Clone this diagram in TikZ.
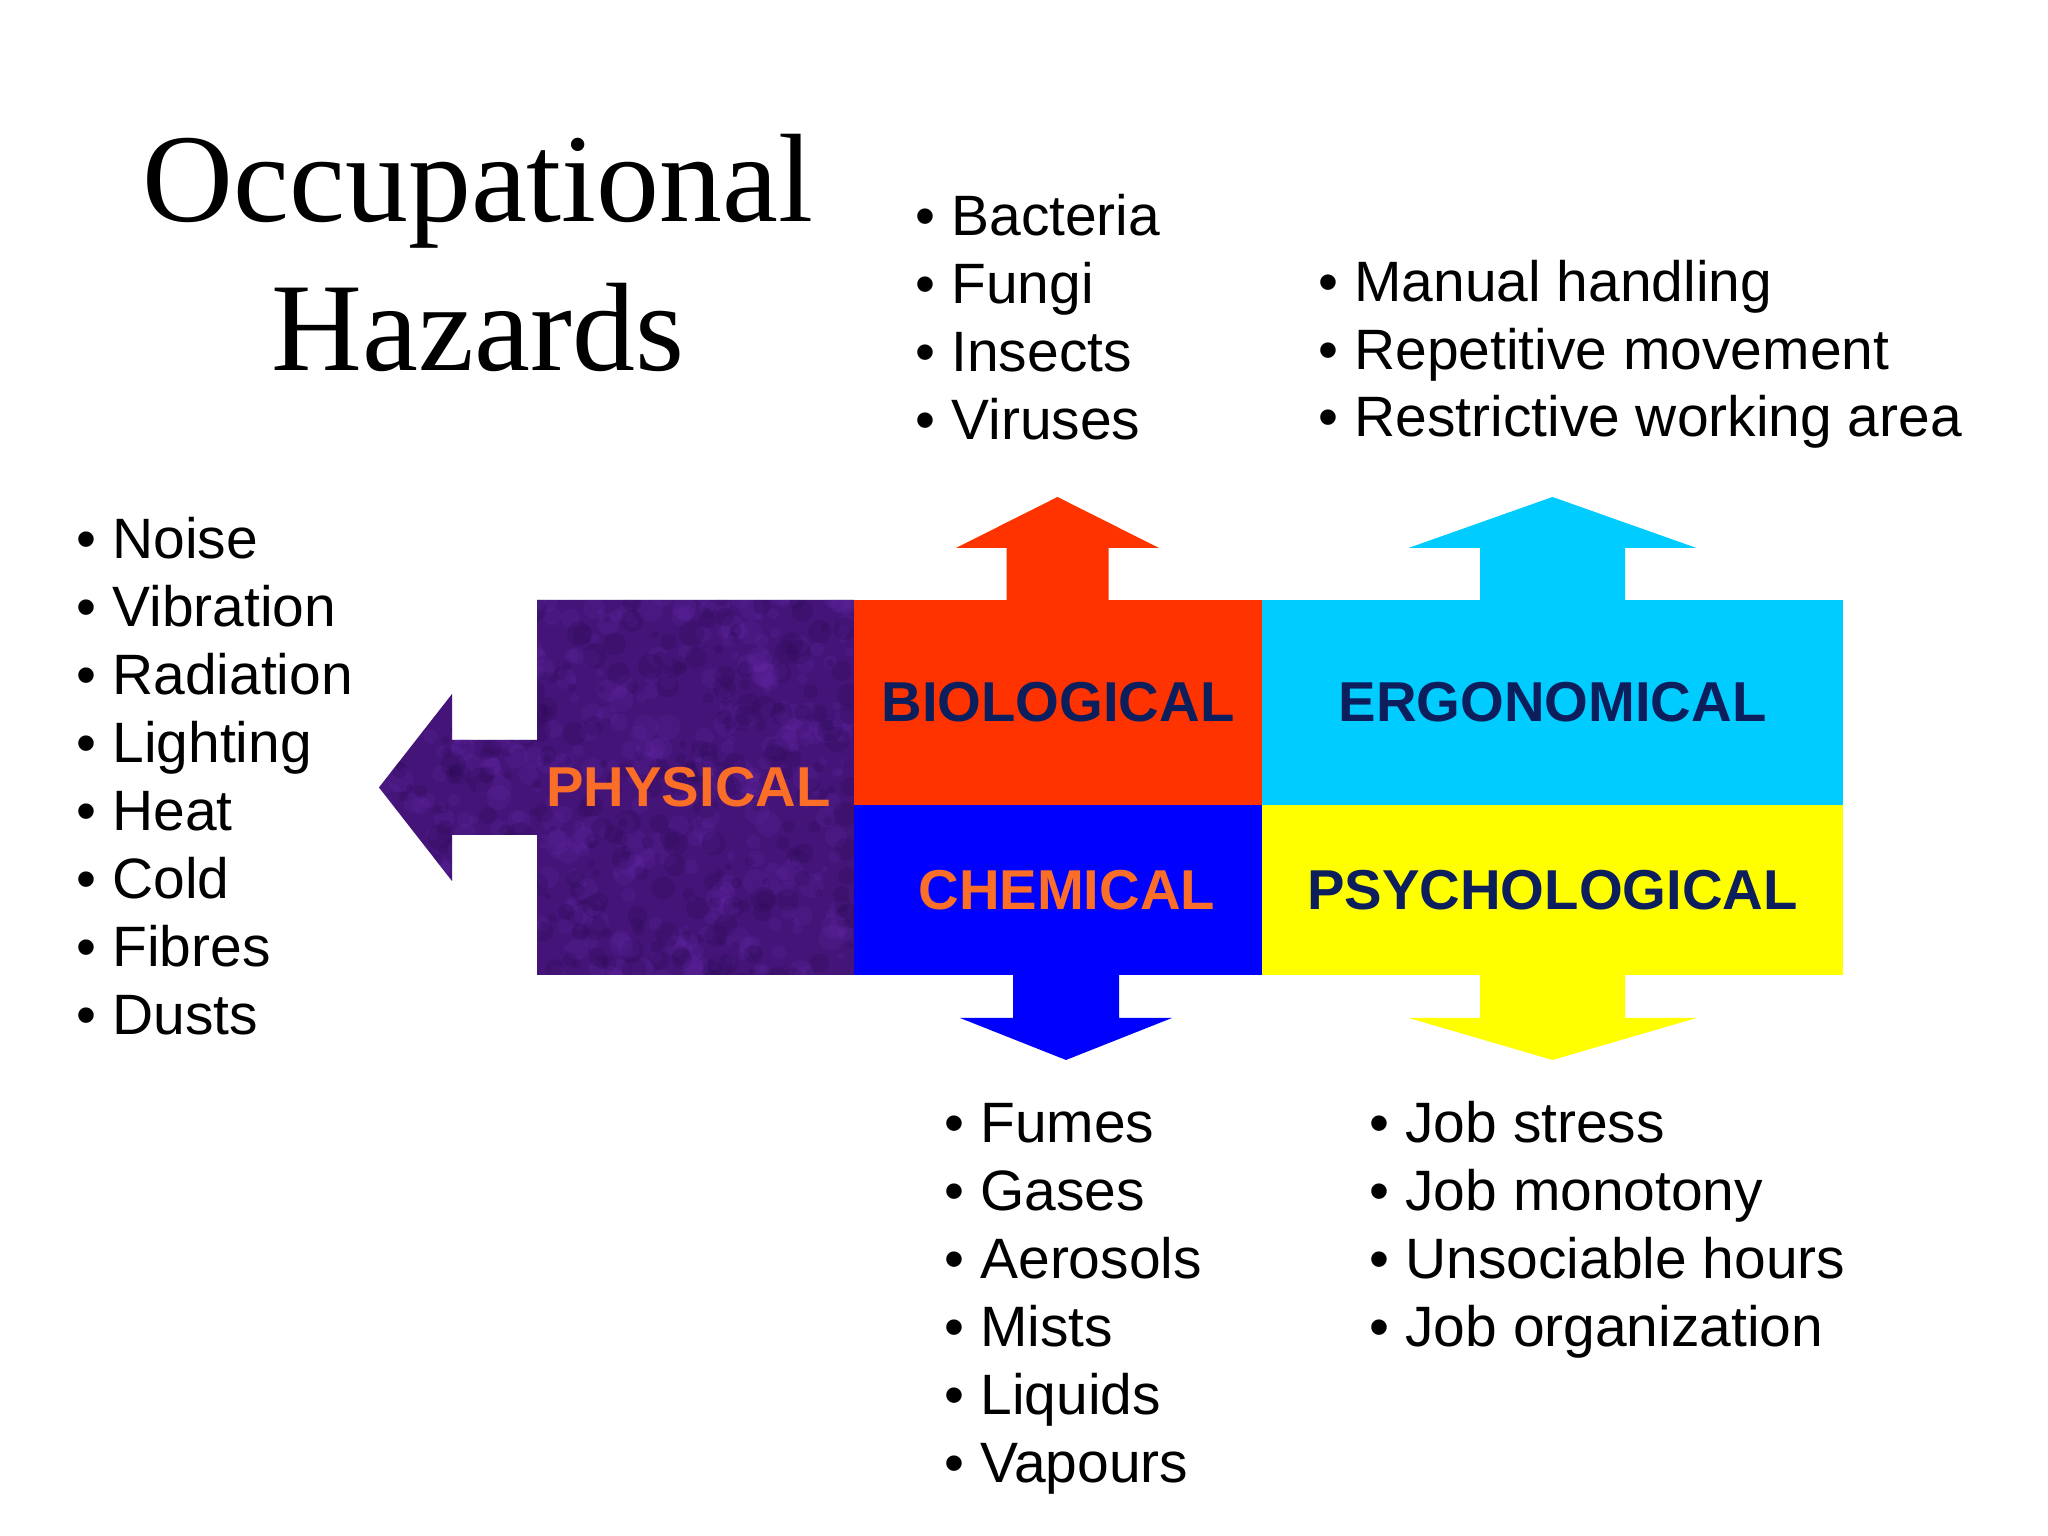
\documentclass[tikz,border=0pt]{standalone}
\usepackage{fontspec}
\setmainfont{Liberation Sans}
\newfontfamily\titlefont{Liberation Serif}
\usepackage{tikz}
\definecolor{physpurple}{RGB}{68,20,120}
\definecolor{physlight}{RGB}{110,45,180}
\definecolor{physdark}{RGB}{38,8,78}
\definecolor{bioorange}{RGB}{255,51,0}
\definecolor{chemblue}{RGB}{0,0,255}
\definecolor{ergocyan}{RGB}{0,204,255}
\definecolor{psychyellow}{RGB}{255,255,0}
\definecolor{labelnavy}{RGB}{12,30,92}
\definecolor{labelorange}{RGB}{250,110,40}
% colour, centre x, shaft half width, head half width, root y, neck y, tip y
\newcommand{\vblock}[7]{\fill[#1] ({#2-#3},#5) -- ({#2-#3},#6) -- ({#2-#4},#6) -- (#2,#7) -- ({#2+#4},#6) -- ({#2+#3},#6) -- ({#2+#3},#5) -- cycle;}

\begin{document}
\begin{tikzpicture}
  \tikzstyle{box}=[rectangle,inner sep=0pt,outer sep=0pt,font=\fontsize{16}{19}\selectfont\bfseries]
  \tikzstyle{item}=[anchor=base west,inner sep=0pt,font=\fontsize{16.2}{19}\selectfont]
  \tikzstyle{heading}=[anchor=base,inner sep=0pt,font=\titlefont\fontsize{35.8}{43}\selectfont]

  \useasboundingbox[fill=white] (0,0) rectangle (20.48,15.36);

  % physical block with its arrow, mottled
  \begin{scope}
    \clip (8.54,9.36) -- (5.37,9.36) -- (5.37,7.96) -- (4.52,7.96) -- (4.52,8.42) -- (3.79,7.485) -- (4.52,6.55) -- (4.52,7.01) -- (5.37,7.01) -- (5.37,5.61) -- (8.54,5.61) -- cycle;
    \fill[physpurple] (3.7,5.5) rectangle (8.6,9.4);
    \pgfmathsetseed{42}
    \foreach \k in {1,...,450}
      \fill[physlight,opacity=0.16] ({3.75+4.8*rnd},{5.55+3.85*rnd}) circle ({0.03+0.1*rnd});
    \foreach \k in {1,...,350}
      \fill[physdark,opacity=0.2] ({3.75+4.8*rnd},{5.55+3.85*rnd}) circle ({0.03+0.1*rnd});
  \end{scope}

  % block arrows
  \vblock{bioorange}{10.575}{0.51}{1.015}{9.30}{9.88}{10.39}
  \vblock{chemblue}{10.66}{0.53}{1.06}{5.67}{5.18}{4.76}
  \vblock{ergocyan}{15.525}{0.725}{1.44}{9.30}{9.88}{10.39}
  \vblock{psychyellow}{15.525}{0.725}{1.44}{5.67}{5.18}{4.76}

  % hazard boxes
  \node[box,text=labelorange,minimum width=3.17cm,minimum height=3.75cm] (phys) at (6.955,7.485) {PHYSICAL\hspace*{4pt}};
  \node[box,fill=bioorange,text=labelnavy,minimum width=4.08cm,minimum height=2.05cm,anchor=north west] (bio) at (phys.north east) {BIOLOGICAL};
  \node[box,fill=chemblue,text=labelorange,minimum width=4.08cm,minimum height=1.70cm,anchor=north west] (chem) at (bio.south west) {\hspace*{5pt}CHEMICAL};
  \node[box,fill=ergocyan,text=labelnavy,minimum width=5.81cm,minimum height=2.05cm,anchor=north west] (ergo) at (bio.north east) {ERGONOMICAL};
  \node[box,fill=psychyellow,text=labelnavy,minimum width=5.81cm,minimum height=1.70cm,anchor=north west] (psych) at (ergo.south west) {PSYCHOLOGICAL};

  % title
  \node[heading] (occ) at (4.78,13.14) {Occupational};
  \node[heading] (haz) at (4.78,11.65) {Hazards};

  % lists
  \foreach \t [count=\i] in {Noise,Vibration,Radiation,Lighting,Heat,Cold,Fibres,Dusts}
    \node[item] (physitem\i) at (0.76,{9.77-0.68*(\i-1)}) {• \t};
  \foreach \t [count=\i] in {Bacteria,Fungi,Insects,Viruses}
    \node[item] (bioitem\i) at (9.15,{13.00-0.68*(\i-1)}) {• \t};
  \foreach \t [count=\i] in {Manual handling,Repetitive movement,Restrictive working area}
    \node[item] (ergoitem\i) at (13.18,{12.34-0.675*(\i-1)}) {• \t};
  \foreach \t [count=\i] in {Fumes,Gases,Aerosols,Mists,Liquids,Vapours}
    \node[item] (chemitem\i) at (9.44,{3.93-0.68*(\i-1)}) {• \t};
  \foreach \t [count=\i] in {Job stress,Job monotony,Unsociable hours,Job organization}
    \node[item] (psychitem\i) at (13.69,{3.93-0.68*(\i-1)}) {• \t};
\end{tikzpicture}
\end{document}
